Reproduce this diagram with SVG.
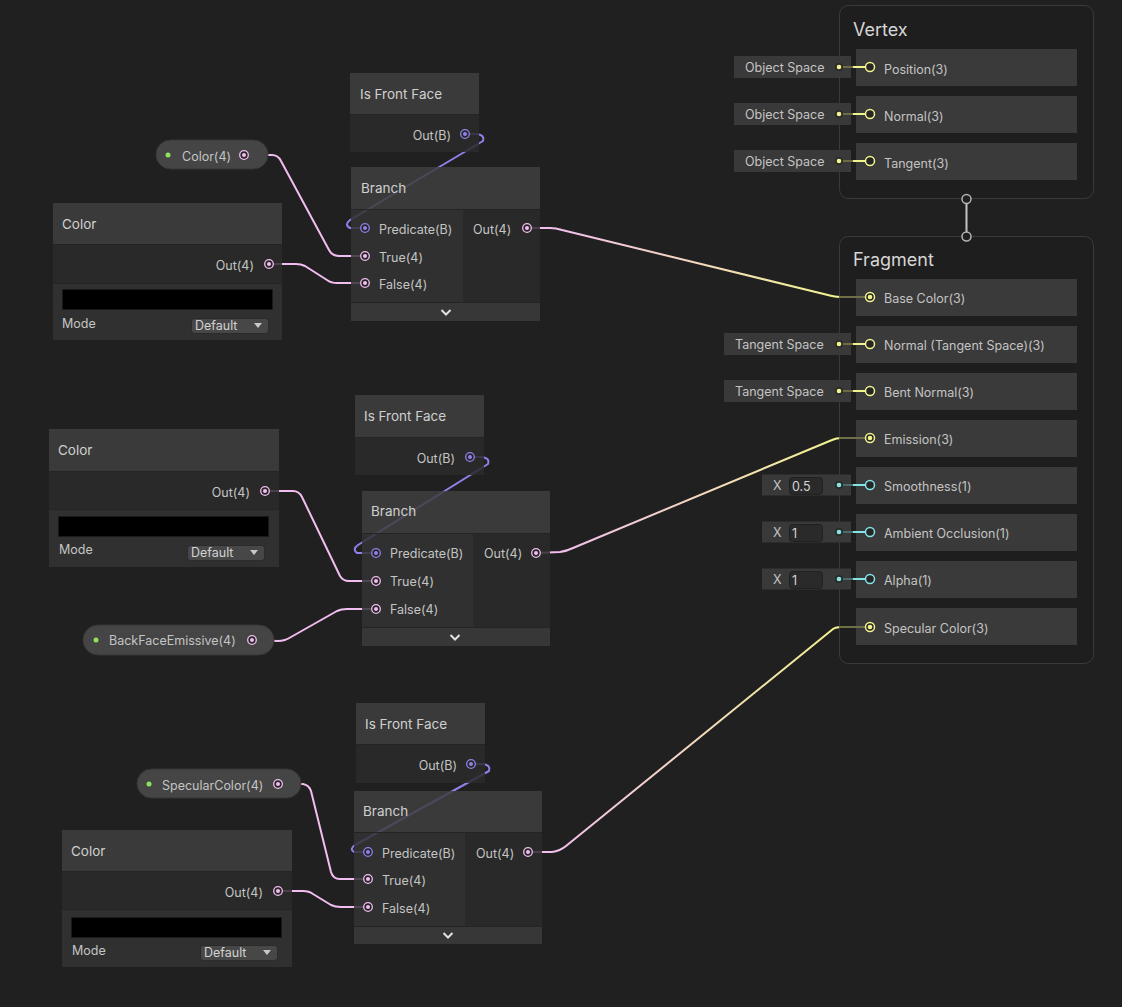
<svg xmlns="http://www.w3.org/2000/svg" width="1122" height="1007" viewBox="0 0 1122 1007">
<defs>
<style>
text{font-family:Inter,"Noto Sans","Liberation Sans",sans-serif;fill:#c4c4c4;font-size:12.5px}
.t{font-size:13.5px;fill:#d0d0d0}
.big{font-size:18px;fill:#d6d6d6}
.dt{fill:#d2d2d2;font-size:12.5px}
.hd{fill:#3f3f3f;fill-opacity:.85}
.bi{fill:#343434;fill-opacity:.85}
.bo{fill:#2c2c2c;fill-opacity:.85}
.bar{fill:#3c3c3c;fill-opacity:.85}
.sep{stroke:#242424;stroke-width:1}
.sw{fill:#000;stroke:#1a1a1a}
.dd{fill:#474747;stroke:#2b2b2b}
.pill{fill:#454545;stroke:#363636}
.ct{fill:#1e1e1e;stroke:#3a3a3a}
.row{fill:#3a3a3a}
.ib{fill:#393939}
.vf{fill:#2a2a2a;stroke:#202020}
.w{fill:none;stroke-width:2;stroke-linecap:round;stroke-linejoin:round}
.pk{stroke:#f2bdf0}
.pu{stroke:#8e82ea}
</style>
<g id="pPk"><circle r="4.3" fill="#262626" stroke="#f2bdf0" stroke-width="1.3"/><circle r="2" fill="#f2bdf0"/></g>
<g id="pPu"><circle r="4.3" fill="#262626" stroke="#8e82ea" stroke-width="1.3"/><circle r="2" fill="#8e82ea"/></g>
<g id="pYon"><circle r="4.5" fill="#262626" stroke="#f3f38e" stroke-width="1.5"/><circle r="2.3" fill="#f3f38e"/></g>
<g id="pYoff"><circle r="4.5" fill="#262626" stroke="#f3f38e" stroke-width="1.5"/></g>
<g id="pCoff"><circle r="4.5" fill="#262626" stroke="#84e4e7" stroke-width="1.5"/></g>
<g id="dY"><circle r="4" fill="#2a2a2a"/><circle r="2.3" fill="#f3f38e"/></g>
<g id="dC"><circle r="4" fill="#2a2a2a"/><circle r="2.3" fill="#84e4e7"/></g>
<path id="chev" d="M-4.5,-2 L0,2.5 L4.5,-2" fill="none" stroke="#e2e2e2" stroke-width="2"/>
<linearGradient id="g1" gradientUnits="userSpaceOnUse" x1="545" y1="0" x2="840" y2="0"><stop offset="0" stop-color="#f2bdf0"/><stop offset="1" stop-color="#f3f38e"/></linearGradient>
<linearGradient id="g2" gradientUnits="userSpaceOnUse" x1="555" y1="0" x2="840" y2="0"><stop offset="0" stop-color="#f2bdf0"/><stop offset="1" stop-color="#f3f38e"/></linearGradient>
<linearGradient id="g3" gradientUnits="userSpaceOnUse" x1="545" y1="0" x2="840" y2="0"><stop offset="0" stop-color="#f2bdf0"/><stop offset="1" stop-color="#f3f38e"/></linearGradient>
</defs>
<rect width="1122" height="1007" fill="#202020"/>

<g id="connectors">
<path class="w pk" d="M244,155 L272,155 Q278,155 281,161 L329,250 Q332,256 339,256 L365,256"/>
<path class="w pk" d="M269,264 L296,264 Q301,264 305,266 L327,280 Q331,283 337,283 L365,283"/>
<path class="w pu" d="M465,134 L477,134 Q485,135 483,141 L350,220 Q344,225 350,228 L365,228"/>
<path class="w" stroke="url(#g1)" d="M527,228 L550,228 Q556,228 562,230 L832,296 Q836,297 842,297 L870,297"/>

<path class="w pk" d="M265,491 L293,491 Q299,491 302,497 L340,576 Q343,581 349,581 L376,581"/>
<path class="w pk" d="M252,640 L278,641 Q285,641 291,637 L337,611 Q341,609 347,609 L376,609"/>
<path class="w pu" d="M470,457 L482,457 Q490,458 488,464 L358,545 Q352,549 357,553 L376,553"/>
<path class="w" stroke="url(#g2)" d="M536,553 L560,552 Q567,551 573,548 L832,440 Q836,438 842,438 L870,438"/>

<path class="w pk" d="M278,784 L303,784 Q309,785 311,791 L331,872 Q333,879 340,879 L368,879"/>
<path class="w pk" d="M278,891 L303,891 Q309,891 313,894 L331,905 Q335,907 341,907 L368,907"/>
<path class="w pu" d="M471,764 L483,764 Q491,765 489,771 L355,845 Q349,849 354,852 L368,852"/>
<path class="w" stroke="url(#g3)" d="M528,852 L552,852 Q560,851 566,846 L833,629 Q836,627 842,627 L870,627"/>
</g>

<!-- Group 1 -->
<g id="isFrontFace1">
<rect class="hd" x="350" y="73" width="129" height="41"/>
<rect class="bo" x="350" y="114" width="129" height="38"/>
<line class="sep" x1="350" y1="114.5" x2="479" y2="114.5"/>
<text class="t" x="360" y="99">Is Front Face</text>
<text x="451" y="140" text-anchor="end">Out(B)</text>
<use href="#pPu" x="465" y="134"/>
</g>
<g id="branch1">
<rect class="hd" x="351" y="167" width="189" height="42"/>
<rect class="bi" x="351" y="209" width="112" height="94"/>
<rect class="bo" x="463" y="209" width="77" height="94"/>
<rect class="bar" x="351" y="303" width="189" height="18"/>
<line class="sep" x1="351" y1="209.5" x2="540" y2="209.5"/>
<line class="sep" x1="351" y1="302.5" x2="540" y2="302.5"/>
<text class="t" x="361" y="193">Branch</text>
<use href="#pPu" x="365" y="228"/><text x="379" y="234">Predicate(B)</text>
<use href="#pPk" x="365" y="256"/><text x="379" y="262">True(4)</text>
<use href="#pPk" x="365" y="283"/><text x="379" y="289">False(4)</text>
<text x="473" y="234">Out(4)</text><use href="#pPk" x="527" y="228"/>
<use href="#chev" x="446" y="312"/>
</g>
<g id="color1">
<rect class="hd" x="53" y="203" width="229" height="41"/>
<rect class="bo" x="53" y="244" width="229" height="40"/>
<rect class="bi" x="53" y="284" width="229" height="56"/>
<line class="sep" x1="53" y1="244.5" x2="282" y2="244.5"/>
<line class="sep" x1="53" y1="283.5" x2="282" y2="283.5"/>
<text class="t" x="62" y="229">Color</text>
<text x="254" y="270" text-anchor="end">Out(4)</text>
<use href="#pPk" x="269" y="264"/>
<rect class="sw" x="62.5" y="289.5" width="210" height="20"/>
<text x="62" y="328">Mode</text>
<rect class="dd" x="191.5" y="318.5" width="77" height="15" rx="3"/>
<text class="dt" x="195" y="330">Default</text>
<path d="M254,323 h8 l-4,5 z" fill="#c8c8c8"/>
</g>
<g id="propColor">
<rect class="pill" x="156" y="140" width="112" height="29" rx="14.5"/>
<circle cx="168" cy="155" r="2.5" fill="#8fe35c"/>
<text x="182" y="161">Color(4)</text>
<use href="#pPk" x="244" y="155"/>
</g>

<!-- Group 2 -->
<g id="isFrontFace2">
<rect class="hd" x="355" y="395" width="129" height="42"/>
<rect class="bo" x="355" y="437" width="129" height="38"/>
<line class="sep" x1="355" y1="437.5" x2="484" y2="437.5"/>
<text class="t" x="364" y="421">Is Front Face</text>
<text x="455" y="463" text-anchor="end">Out(B)</text>
<use href="#pPu" x="470" y="457"/>
</g>
<g id="branch2">
<rect class="hd" x="362" y="491" width="188" height="42"/>
<rect class="bi" x="362" y="533" width="111" height="95"/>
<rect class="bo" x="473" y="533" width="77" height="95"/>
<rect class="bar" x="362" y="628" width="188" height="18"/>
<line class="sep" x1="362" y1="533.5" x2="550" y2="533.5"/>
<line class="sep" x1="362" y1="627.5" x2="550" y2="627.5"/>
<text class="t" x="371" y="516">Branch</text>
<use href="#pPu" x="376" y="553"/><text x="390" y="558">Predicate(B)</text>
<use href="#pPk" x="376" y="581"/><text x="390" y="586">True(4)</text>
<use href="#pPk" x="376" y="609"/><text x="390" y="614">False(4)</text>
<text x="484" y="558">Out(4)</text><use href="#pPk" x="536" y="553"/>
<use href="#chev" x="455" y="637"/>
</g>
<g id="color2">
<rect class="hd" x="49" y="429" width="230" height="42"/>
<rect class="bo" x="49" y="471" width="230" height="39"/>
<rect class="bi" x="49" y="510" width="230" height="57"/>
<line class="sep" x1="49" y1="471.5" x2="279" y2="471.5"/>
<line class="sep" x1="49" y1="509.5" x2="279" y2="509.5"/>
<text class="t" x="58" y="455">Color</text>
<text x="250" y="497" text-anchor="end">Out(4)</text>
<use href="#pPk" x="265" y="491"/>
<rect class="sw" x="58.5" y="516.5" width="210" height="20"/>
<text x="59" y="554">Mode</text>
<rect class="dd" x="187.5" y="545.5" width="77" height="15" rx="3"/>
<text class="dt" x="191" y="557">Default</text>
<path d="M250,550 h8 l-4,5 z" fill="#c8c8c8"/>
</g>
<g id="propBackFaceEmissive">
<rect class="pill" x="83" y="625" width="191" height="30" rx="15"/>
<circle cx="96" cy="640" r="2.5" fill="#8fe35c"/>
<text x="109" y="645">BackFaceEmissive(4)</text>
<use href="#pPk" x="252" y="640"/>
</g>

<!-- Group 3 -->
<g id="isFrontFace3">
<rect class="hd" x="356" y="703" width="129" height="41"/>
<rect class="bo" x="356" y="744" width="129" height="39"/>
<line class="sep" x1="356" y1="744.5" x2="485" y2="744.5"/>
<text class="t" x="365" y="729">Is Front Face</text>
<text x="457" y="770" text-anchor="end">Out(B)</text>
<use href="#pPu" x="471" y="764"/>
</g>
<g id="branch3">
<rect class="hd" x="354" y="791" width="188" height="41"/>
<rect class="bi" x="354" y="832" width="111" height="95"/>
<rect class="bo" x="465" y="832" width="77" height="95"/>
<rect class="bar" x="354" y="927" width="188" height="17"/>
<line class="sep" x1="354" y1="832.5" x2="542" y2="832.5"/>
<line class="sep" x1="354" y1="926.5" x2="542" y2="926.5"/>
<text class="t" x="363" y="816">Branch</text>
<use href="#pPu" x="368" y="852"/><text x="382" y="858">Predicate(B)</text>
<use href="#pPk" x="368" y="879"/><text x="382" y="885">True(4)</text>
<use href="#pPk" x="368" y="907"/><text x="382" y="913">False(4)</text>
<text x="476" y="858">Out(4)</text><use href="#pPk" x="528" y="852"/>
<use href="#chev" x="448" y="935"/>
</g>
<g id="color3">
<rect class="hd" x="62" y="830" width="230" height="41"/>
<rect class="bo" x="62" y="871" width="230" height="39"/>
<rect class="bi" x="62" y="910" width="230" height="57"/>
<line class="sep" x1="62" y1="871.5" x2="292" y2="871.5"/>
<line class="sep" x1="62" y1="909.5" x2="292" y2="909.5"/>
<text class="t" x="71" y="856">Color</text>
<text x="263" y="897" text-anchor="end">Out(4)</text>
<use href="#pPk" x="278" y="891"/>
<rect class="sw" x="71.5" y="917.5" width="210" height="20"/>
<text x="72" y="955">Mode</text>
<rect class="dd" x="200.5" y="945.5" width="77" height="15" rx="3"/>
<text class="dt" x="204" y="957">Default</text>
<path d="M263,950 h8 l-4,5 z" fill="#c8c8c8"/>
</g>
<g id="propSpecularColor">
<rect class="pill" x="137" y="769" width="164" height="29" rx="14.5"/>
<circle cx="149" cy="784" r="2.5" fill="#8fe35c"/>
<text x="162" y="790">SpecularColor(4)</text>
<use href="#pPk" x="278" y="784"/>
</g>

<!-- Master: Vertex -->
<g id="vertex">
<rect class="ct" x="839.5" y="5.5" width="254" height="193" rx="9"/>
<text class="big" x="853" y="36">Vertex</text>
<rect class="row" x="856" y="49" width="221" height="37"/>
<rect class="row" x="856" y="96" width="221" height="37"/>
<rect class="row" x="856" y="143" width="221" height="37"/>
<text x="884" y="74">Position(3)</text>
<text x="884" y="121">Normal(3)</text>
<text x="884" y="168">Tangent(3)</text>
<rect class="ib" x="734" y="56" width="117" height="22"/>
<rect class="ib" x="734" y="103" width="117" height="22"/>
<rect class="ib" x="734" y="150" width="117" height="22"/>
<text x="745" y="72">Object Space</text>
<text x="745" y="119">Object Space</text>
<text x="745" y="166">Object Space</text>
<g stroke-width="2">
<line x1="841" y1="67" x2="853" y2="67" stroke="#6b6b45"/><line x1="853" y1="67" x2="866" y2="67" stroke="#f3f38e"/>
<line x1="841" y1="114" x2="853" y2="114" stroke="#6b6b45"/><line x1="853" y1="114" x2="866" y2="114" stroke="#f3f38e"/>
<line x1="841" y1="161" x2="853" y2="161" stroke="#6b6b45"/><line x1="853" y1="161" x2="866" y2="161" stroke="#f3f38e"/>
</g>
<use href="#dY" x="839" y="67"/><use href="#dY" x="839" y="114"/><use href="#dY" x="839" y="161"/>
<use href="#pYoff" x="870" y="67"/><use href="#pYoff" x="870" y="114"/><use href="#pYoff" x="870" y="161"/>
</g>

<!-- Master: Fragment -->
<g id="fragment">
<rect class="ct" x="839.5" y="236.5" width="254" height="427" rx="9"/>
<text class="big" x="853" y="266">Fragment</text>
<rect class="row" x="856" y="279" width="221" height="37"/>
<rect class="row" x="856" y="326" width="221" height="37"/>
<rect class="row" x="856" y="373" width="221" height="37"/>
<rect class="row" x="856" y="420" width="221" height="37"/>
<rect class="row" x="856" y="467" width="221" height="37"/>
<rect class="row" x="856" y="514" width="221" height="37"/>
<rect class="row" x="856" y="561" width="221" height="37"/>
<rect class="row" x="856" y="608" width="221" height="37"/>
<text x="884" y="303">Base Color(3)</text>
<text x="884" y="350">Normal (Tangent Space)(3)</text>
<text x="884" y="397">Bent Normal(3)</text>
<text x="884" y="444">Emission(3)</text>
<text x="884" y="491">Smoothness(1)</text>
<text x="884" y="538">Ambient Occlusion(1)</text>
<text x="884" y="585">Alpha(1)</text>
<text x="884" y="633">Specular Color(3)</text>
<rect class="ib" x="724" y="333" width="127" height="22"/>
<rect class="ib" x="724" y="380" width="127" height="22"/>
<text x="735" y="349">Tangent Space</text>
<text x="735" y="396">Tangent Space</text>
<rect class="ib" x="762" y="474.5" width="89" height="21"/>
<rect class="ib" x="762" y="521.5" width="89" height="21"/>
<rect class="ib" x="762" y="568.5" width="89" height="21"/>
<text x="773" y="490">X</text><text x="773" y="537">X</text><text x="773" y="584">X</text>
<rect class="vf" x="789.5" y="477.5" width="33" height="17" rx="3"/>
<rect class="vf" x="789.5" y="524.5" width="33" height="17" rx="3"/>
<rect class="vf" x="789.5" y="571.5" width="33" height="17" rx="3"/>
<text x="792" y="491" style="fill:#d6d6d6">0.5</text>
<text x="792" y="538" style="fill:#d6d6d6">1</text>
<text x="792" y="585" style="fill:#d6d6d6">1</text>
<g stroke-width="2">
<line x1="839" y1="297" x2="866" y2="297" stroke="#6e6e48"/>
<line x1="839" y1="438" x2="866" y2="438" stroke="#6e6e48"/>
<line x1="839" y1="627" x2="866" y2="627" stroke="#6e6e48"/>
<line x1="841" y1="344" x2="853" y2="344" stroke="#6b6b45"/><line x1="853" y1="344" x2="866" y2="344" stroke="#f3f38e"/>
<line x1="841" y1="391" x2="853" y2="391" stroke="#6b6b45"/><line x1="853" y1="391" x2="866" y2="391" stroke="#f3f38e"/>
<line x1="841" y1="485" x2="853" y2="485" stroke="#4a6c6d"/><line x1="853" y1="485" x2="866" y2="485" stroke="#84e4e7"/>
<line x1="841" y1="532" x2="853" y2="532" stroke="#4a6c6d"/><line x1="853" y1="532" x2="866" y2="532" stroke="#84e4e7"/>
<line x1="841" y1="579" x2="853" y2="579" stroke="#4a6c6d"/><line x1="853" y1="579" x2="866" y2="579" stroke="#84e4e7"/>
</g>
<use href="#dY" x="839" y="344"/><use href="#dY" x="839" y="391"/>
<use href="#dC" x="839" y="485"/><use href="#dC" x="839" y="532"/><use href="#dC" x="839" y="579"/>
<use href="#pYon" x="870" y="297"/>
<use href="#pYoff" x="870" y="344"/>
<use href="#pYoff" x="870" y="391"/>
<use href="#pYon" x="870" y="438"/>
<use href="#pCoff" x="870" y="485"/>
<use href="#pCoff" x="870" y="532"/>
<use href="#pCoff" x="870" y="579"/>
<use href="#pYon" x="870" y="627"/>
</g>

<g id="vertex-fragment-link">
<line x1="966.5" y1="204" x2="966.5" y2="232" stroke="#c4c4c4" stroke-width="2"/>
<circle cx="966.5" cy="199" r="4.5" fill="#202020" stroke="#b4b4b4" stroke-width="1.5"/>
<circle cx="966.5" cy="236.5" r="4.5" fill="#202020" stroke="#b4b4b4" stroke-width="1.5"/>
</g>
</svg>
